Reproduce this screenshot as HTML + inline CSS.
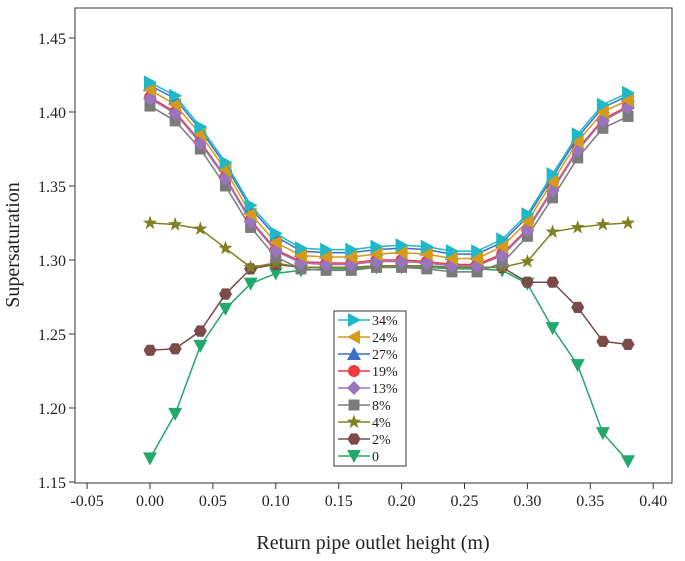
<!DOCTYPE html>
<html><head><meta charset="utf-8"><style>
body{margin:0;background:#fff}
svg text{font-family:"Liberation Serif",serif;fill:#222}
</style></head><body>
<svg id="c" width="685" height="556"></svg>
<script>
const xVals=[0,0.02,0.04,0.06,0.08,0.10,0.12,0.14,0.16,0.18,0.20,0.22,0.24,0.26,0.28,0.30,0.32,0.34,0.36,0.38];
const s34=[1.420,1.411,1.390,1.366,1.337,1.318,1.308,1.307,1.307,1.309,1.310,1.309,1.306,1.306,1.314,1.331,1.358,1.385,1.405,1.413];
const s27=[1.418,1.409,1.388,1.364,1.335,1.316,1.306,1.305,1.305,1.307,1.308,1.307,1.304,1.304,1.312,1.329,1.356,1.383,1.403,1.411];
const s24=[1.415,1.405,1.385,1.361,1.331,1.312,1.303,1.302,1.302,1.304,1.305,1.304,1.301,1.301,1.309,1.326,1.353,1.380,1.400,1.408];
const s19=[1.410,1.400,1.380,1.356,1.327,1.307,1.299,1.298,1.298,1.300,1.300,1.299,1.297,1.297,1.304,1.321,1.348,1.375,1.395,1.404];
const s13=[1.409,1.399,1.379,1.355,1.326,1.306,1.298,1.297,1.297,1.299,1.299,1.298,1.296,1.296,1.303,1.320,1.347,1.374,1.394,1.403];
const s8=[1.404,1.394,1.375,1.350,1.322,1.302,1.294,1.293,1.293,1.295,1.295,1.294,1.292,1.292,1.298,1.316,1.342,1.369,1.389,1.397];
const s4=[1.325,1.324,1.321,1.308,1.295,1.298,1.295,1.295,1.295,1.296,1.296,1.296,1.295,1.295,1.295,1.299,1.319,1.322,1.324,1.325];
const s2=[1.239,1.240,1.252,1.277,1.294,1.297,1.295,1.295,1.295,1.296,1.296,1.296,1.295,1.295,1.295,1.285,1.285,1.268,1.245,1.243];
const s0=[1.166,1.196,1.242,1.267,1.284,1.291,1.293,1.294,1.294,1.295,1.295,1.295,1.294,1.294,1.293,1.284,1.254,1.229,1.183,1.164];
const xTicks=[-0.05,0,0.05,0.10,0.15,0.20,0.25,0.30,0.35,0.40];
const yTicks=[1.15,1.20,1.25,1.30,1.35,1.40,1.45];
const NS="http://www.w3.org/2000/svg";
const svg=document.getElementById('c');
const X=v=>150+v*1258, Y=v=>482-(v-1.15)/0.05*74;
function mk(t,a,p){const e=document.createElementNS(NS,t);for(const k in a)e.setAttribute(k,a[k]);(p||svg).appendChild(e);return e;}
function marker(g,type,x,y,c){
 let e;
 if(type==='right')e=mk('polygon',{points:`${x-6},${y-7} ${x+7},${y} ${x-6},${y+7}`,fill:c},g);
 else if(type==='left')e=mk('polygon',{points:`${x+6},${y-7} ${x-7},${y} ${x+6},${y+7}`,fill:c},g);
 else if(type==='up')e=mk('polygon',{points:`${x},${y-7} ${x+7},${y+6} ${x-7},${y+6}`,fill:c},g);
 else if(type==='down')e=mk('polygon',{points:`${x-7},${y-6} ${x+7},${y-6} ${x},${y+7}`,fill:c},g);
 else if(type==='circle')e=mk('circle',{cx:x,cy:y,r:6,fill:c},g);
 else if(type==='diamond')e=mk('polygon',{points:`${x},${y-7} ${x+7},${y} ${x},${y+7} ${x-7},${y}`,fill:c},g);
 else if(type==='square')e=mk('rect',{x:x-5.5,y:y-5.5,width:11,height:11,fill:c},g);
 else if(type==='star'){let p=[];for(let i=0;i<10;i++){const r=i%2?3:7.5,a=-Math.PI/2+i*Math.PI/5;p.push((x+r*Math.cos(a)).toFixed(1)+','+(y+r*Math.sin(a)).toFixed(1));}e=mk('polygon',{points:p.join(' '),fill:c},g);}
 else if(type==='hex'){let p=[];for(let i=0;i<6;i++){const a=i*Math.PI/3;p.push((x+6.5*Math.cos(a)).toFixed(1)+','+(y+6.5*Math.sin(a)).toFixed(1));}e=mk('polygon',{points:p.join(' '),fill:c},g);}
 return e;
}
const frame=mk('rect',{x:75,y:8,width:597,height:475,fill:'none',stroke:'#333','stroke-width':1});

xTicks.forEach(t=>{const x=X(t);mk('line',{x1:x,x2:x,y1:483,y2:489,stroke:'#333'});
 const tx=mk('text',{x:x,y:506,'text-anchor':'middle','font-size':16});tx.textContent=t.toFixed(2);
 });
yTicks.forEach(t=>{const y=Y(t);mk('line',{x1:69,x2:75,y1:y,y2:y,stroke:'#333'});
 const tx=mk('text',{x:66,y:y+6,'text-anchor':'end','font-size':16});tx.textContent=t.toFixed(2);
 });
const xt=mk('text',{x:373,y:549,'text-anchor':'middle','font-size':20});xt.textContent='Return pipe outlet height (m)';

const yt=mk('text',{x:0,y:0,'text-anchor':'middle','font-size':20,transform:'translate(19,245) rotate(-90)'});yt.textContent='Supersaturation';

const series=[
 ['0',s0,'#23a86b','down'],['2%',s2,'#7a4b49','hex'],['4%',s4,'#7f8022','star'],['8%',s8,'#7b7b7b','square'],
 ['19%',s19,'#ee3a3a','circle'],['13%',s13,'#9a75bf','diamond'],['27%',s27,'#3a6fc4','up'],['24%',s24,'#d49a1c','left'],['34%',s34,'#1fb8c6','right']];
series.forEach(([name,vals,c,m])=>{
 const g=mk('g',{});
 
 
 mk('polyline',{points:vals.map((v,i)=>X(xVals[i])+','+Y(v)).join(' '),fill:'none',stroke:c,'stroke-width':1.5},g);
 vals.forEach((v,i)=>marker(g,m,X(xVals[i]),Y(v),c));
});
const legendOrder=['34%','24%','27%','19%','13%','8%','4%','2%','0'];
const lg=mk('g',{});


mk('rect',{x:334,y:311,width:72,height:155,fill:'#fff',stroke:'#333'},lg);
legendOrder.forEach((nm,i)=>{
 const [name,vals,c,m]=series.find(s=>s[0]===nm);
 const y=320+i*17;
 const e=mk('g',{},lg);
 
 
 mk('line',{x1:338,x2:370,y1:y,y2:y,stroke:c,'stroke-width':1.5},e);
 marker(e,m,354,y,c);
 const t=mk('text',{x:372,y:y+5,'font-size':14},e);t.textContent=name;
});
</script>
</body></html>
